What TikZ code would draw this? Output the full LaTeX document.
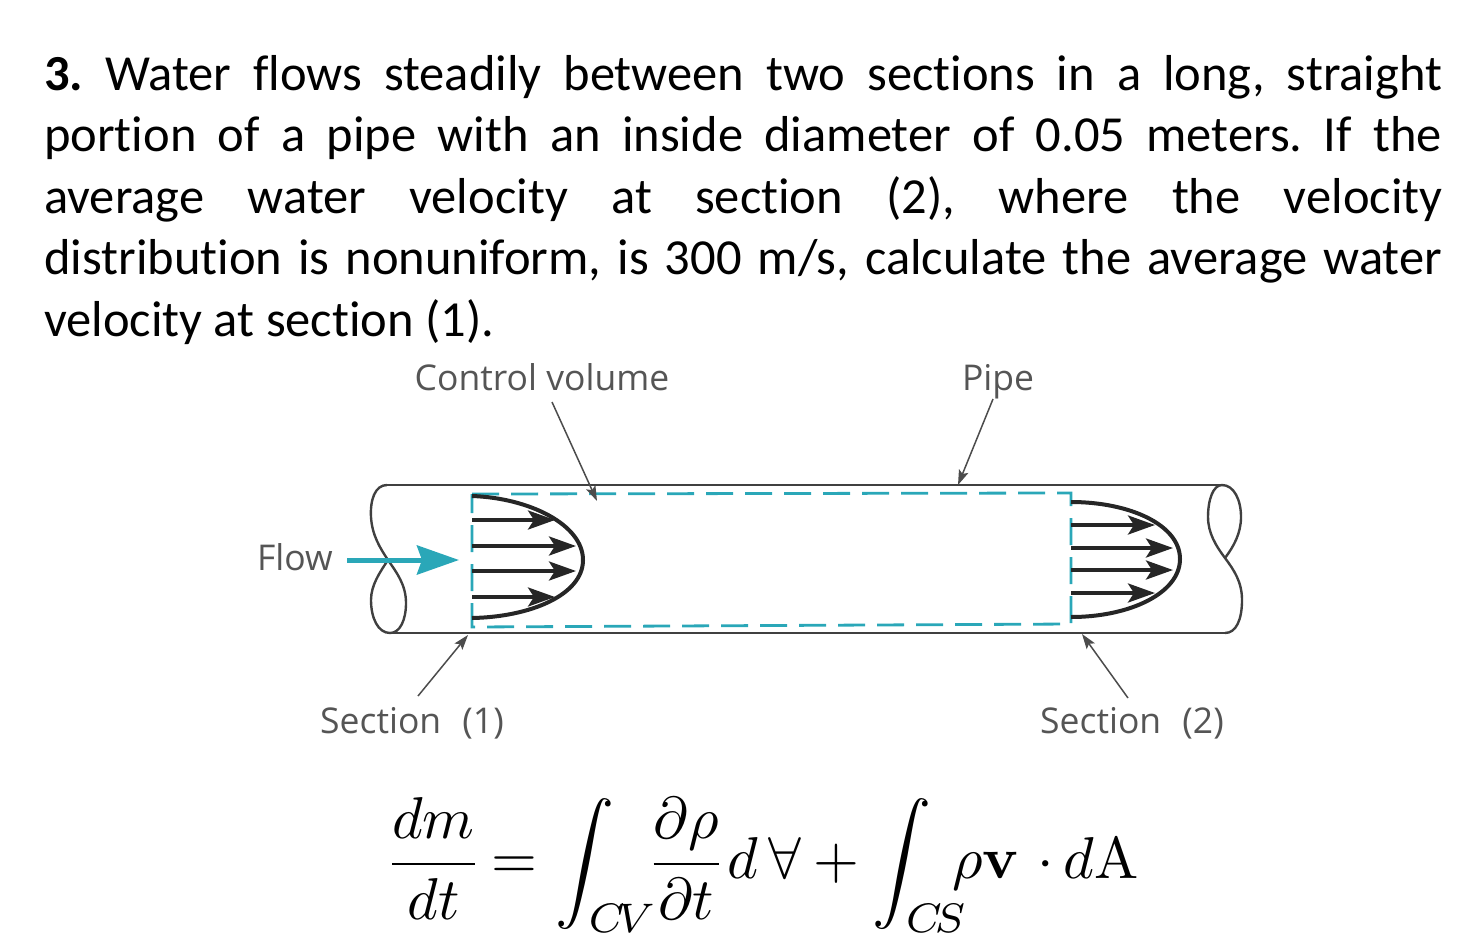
\documentclass[tikz,border=0pt]{standalone}
\usepackage{amsmath,amssymb}
\usepackage[no-math]{fontspec}
\setmainfont[Ligatures=NoCommon]{Carlito}
\newfontfamily\labelfont{Open Sans}
\usetikzlibrary{arrows.meta}
\definecolor{cvcyan}{HTML}{2AA7B8}
\definecolor{labelgray}{HTML}{555555}
\tikzset{
  pipeline/.style={line width=2.4pt,draw=black!75},
  cvline/.style={line width=2.8pt,draw=cvcyan,dash pattern=on 27pt off 12pt},
  profile/.style={line width=4pt,draw=black!85},
  velarrow/.style={line width=3.8pt,draw=black!85,-{Stealth[length=27pt,width=19pt,inset=6pt]}},
  leader/.style={line width=1.5pt,draw=black!70,-{Stealth[length=15pt,width=10pt,inset=3pt]}},
  partlabel/.style={text=labelgray,font=\labelfont\fontsize{35.5}{38}\selectfont,inner sep=0pt,anchor=base},
}
\begin{document}
\begin{tikzpicture}[x=1pt,y=-1pt]
\useasboundingbox (0,0) rectangle (1471,948);

% objects at depth 50:
\node[anchor=north west,inner sep=0pt,text width=1398pt,align=justify,font=\fontsize{50.5}{61.5}\selectfont] (problem) at (44,55)
  {\frenchspacing\textbf{3.} Water flows steadily between two sections in a long, straight\linebreak
   portion of a pipe with an inside diameter of 0.05 meters. If the\linebreak
   average water velocity at section (2), where the velocity\linebreak
   distribution is nonuniform, is 300 m/s, calculate the average water\linebreak
   velocity at section (1).};

\draw[pipeline] (387,485) -- (1222,485);
\draw[pipeline] (390,633) -- (1225,633);
\draw[pipeline] (387,485) .. controls (375,485) and (370,500) .. (371,517) .. controls (372,535) and (380,548) .. (388,560) .. controls (397,573) and (406,585) .. (406,603) .. controls (406,620) and (400,633) .. (390,633) .. controls (378,633) and (371,618) .. (371,600) .. controls (371,585) and (380,572) .. (388,560);
\draw[pipeline] (1222,485) .. controls (1213,485) and (1208,500) .. (1208,517) .. controls (1208,533) and (1216,546) .. (1225,558) .. controls (1234,570) and (1242,582) .. (1242,600) .. controls (1242,620) and (1236,633) .. (1225,633);
\draw[pipeline] (1222,485) .. controls (1234,485) and (1241,500) .. (1241,517) .. controls (1241,533) and (1234,546) .. (1225,558);

\draw[cvline] (472,494) -- (1071,493) -- (1071,624) -- (472,627) -- cycle;

\draw[profile] (472,496) .. controls (530,498) and (583,525) .. (583,560) .. controls (583,595) and (530,617) .. (472,618);
\draw[profile] (1071,502) .. controls (1130,502) and (1180,525) .. (1180,559) .. controls (1180,593) and (1130,617) .. (1071,617);

\foreach \y/\tip in {520/555,546/576,571/576,597/555}
  \draw[velarrow] (472,\y) -- (\tip,\y);
\foreach \y/\tip in {525/1155,548/1173,570/1173,593/1155}
  \draw[velarrow] (1071,\y) -- (\tip,\y);

\node[partlabel] (flow) at (295,570) {Flow};
\coordinate (flowstart) at (347,560);
\coordinate (flowtip) at (459,560);
\draw[line width=5pt,draw=cvcyan,-{Stealth[length=42pt,width=29pt,inset=5pt]}] (flowstart) -- (flowtip);

\node[partlabel] (cvlabel) at (542,390) {Control volume};
\node[partlabel] (pipelabel) at (998,390) {Pipe};
\node[partlabel] (sectionone) at (412,733) {Section \hspace{12pt}(1)};
\node[partlabel] (sectiontwo) at (1132,733) {Section \hspace{12pt}(2)};
\coordinate (cvtip) at (597,501);
\coordinate (pipetip) at (958,485);
\coordinate (onetip) at (468,635);
\coordinate (twotip) at (1082,634);
\draw[leader] (552,402) -- (cvtip);
\draw[leader] (993,399) -- (pipetip);
\draw[leader] (418,696) -- (onetip);
\draw[leader] (1128,698) -- (twotip);

\node[inner sep=0pt,scale=5.9,anchor=west] (massbalance) at (384,865)
  {$\displaystyle \thickmuskip=0mu \medmuskip=0mu \frac{dm}{dt}\mkern3mu=\mkern5.5mu\int_{C\mkern-3mu V}\mkern-6.5mu\frac{\partial\rho}{\partial t}\mkern0.5mu d\mkern3mu\forall\mkern4mu+\mkern4mu\int_{C\mkern-3mu S}\mkern-8mu\rho\mathbf{v}\mkern5.5mu\cdot\mkern3mu d\mathrm{A}$};

\end{tikzpicture}
\end{document}
